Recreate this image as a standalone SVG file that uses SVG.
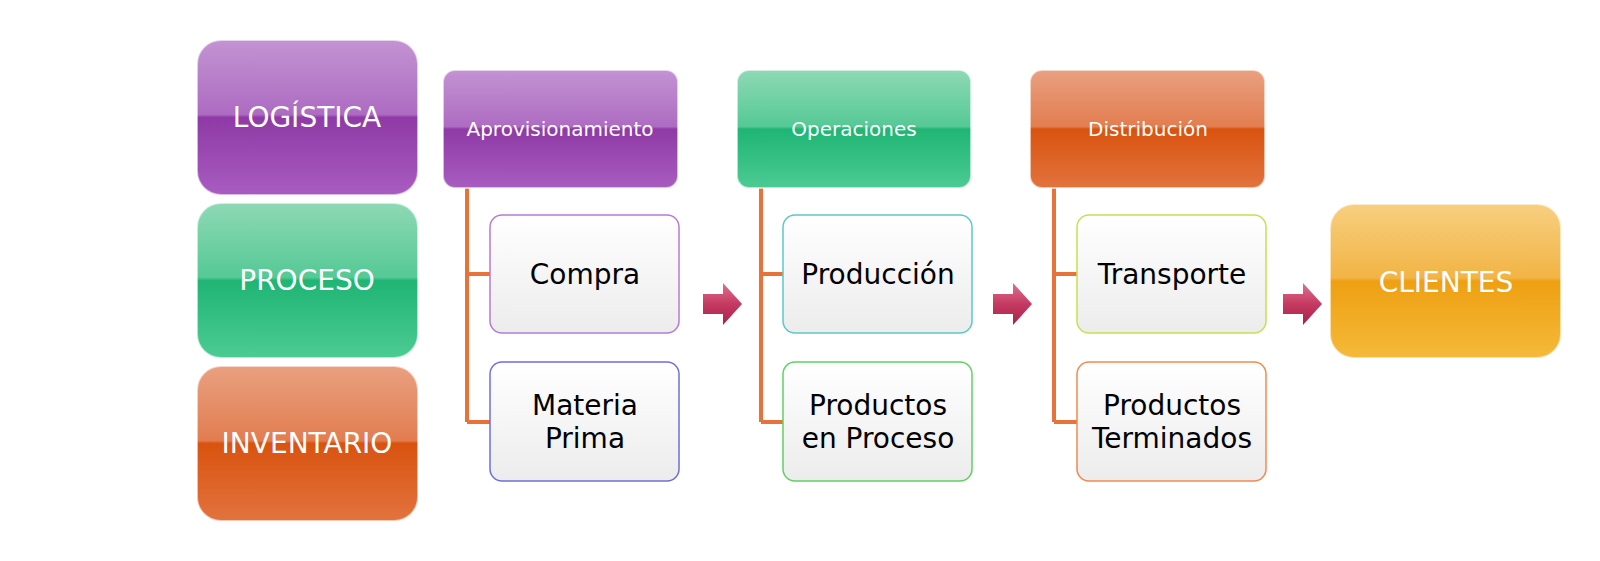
<svg xmlns="http://www.w3.org/2000/svg" width="1600" height="561" viewBox="0 0 1600 561">
<defs>
<linearGradient id="gP" x1="0" y1="0" x2="0" y2="1"><stop offset="0" stop-color="#c393d2"/><stop offset="0.48" stop-color="#ad6cc2"/><stop offset="0.5" stop-color="#8f3aa6"/><stop offset="1" stop-color="#a85cc0"/></linearGradient>
<linearGradient id="gG" x1="0" y1="0" x2="0" y2="1"><stop offset="0" stop-color="#8ed9b5"/><stop offset="0.48" stop-color="#55c995"/><stop offset="0.5" stop-color="#1fb574"/><stop offset="1" stop-color="#4ccb93"/></linearGradient>
<linearGradient id="gO" x1="0" y1="0" x2="0" y2="1"><stop offset="0" stop-color="#e9a080"/><stop offset="0.48" stop-color="#e27d50"/><stop offset="0.5" stop-color="#d9530f"/><stop offset="1" stop-color="#e2733e"/></linearGradient>
<linearGradient id="gY" x1="0" y1="0" x2="0" y2="1"><stop offset="0" stop-color="#f7cf80"/><stop offset="0.48" stop-color="#f2b445"/><stop offset="0.5" stop-color="#eea012"/><stop offset="1" stop-color="#f5b93a"/></linearGradient>
<linearGradient id="gW" x1="0" y1="0" x2="0" y2="1"><stop offset="0" stop-color="#ffffff"/><stop offset="1" stop-color="#ececec"/></linearGradient>
<linearGradient id="gA" x1="0" y1="0" x2="0" y2="1"><stop offset="0" stop-color="#e0708f"/><stop offset="0.5" stop-color="#c53a62"/><stop offset="1" stop-color="#a82048"/></linearGradient>
<path id="arr" d="M0,-10 H20 V-21 L39,0 L20,21 V10 H0 Z"/>
</defs>
<style>
.big{font-family:"DejaVu Sans",Verdana,sans-serif;font-size:28px;fill:#fff;text-anchor:middle}
.hd{font-family:"DejaVu Sans",Verdana,sans-serif;font-size:20px;fill:#fff;text-anchor:middle}
.ch{font-family:"DejaVu Sans",Verdana,sans-serif;font-size:28px;fill:#000;text-anchor:middle;font-weight:500}
.card{fill:url(#gW);stroke-width:1.5}
.shell{stroke:#fff;stroke-opacity:0.6;stroke-width:2}
</style>
<rect width="1600" height="561" fill="#fff"/>
<g id="logistica"><rect class="shell" x="197" y="40" width="221" height="155" rx="24" fill="url(#gP)"/><text class="big" x="307" y="127">LOGÍSTICA</text></g>
<g id="proceso"><rect class="shell" x="197" y="203" width="221" height="155" rx="24" fill="url(#gG)"/><text class="big" x="307" y="290">PROCESO</text></g>
<g id="inventario"><rect class="shell" x="197" y="366" width="221" height="155" rx="24" fill="url(#gO)"/><text class="big" x="307" y="453">INVENTARIO</text></g>
<g id="connectors" stroke="#e8733a" stroke-width="4" fill="none">
<path d="M467,188 V422 M467,274 H490 M467,422 H490"/>
<path d="M761,188 V422 M761,274 H783 M761,422 H783"/>
<path d="M1054,188 V422 M1054,274 H1077 M1054,422 H1077"/>
<g fill="url(#gA)" stroke="none">
<use href="#arr" x="703" y="304"/><use href="#arr" x="993" y="304"/><use href="#arr" x="1283" y="304"/>
</g>
</g>
<g id="aprovisionamiento"><rect class="shell" x="443" y="70" width="235" height="118" rx="12" fill="url(#gP)"/><text class="hd" x="560" y="136">Aprovisionamiento</text></g>
<g id="operaciones"><rect class="shell" x="737" y="70" width="234" height="118" rx="12" fill="url(#gG)"/><text class="hd" x="854" y="136">Operaciones</text></g>
<g id="distribucion"><rect class="shell" x="1030" y="70" width="235" height="118" rx="12" fill="url(#gO)"/><text class="hd" x="1148" y="136">Distribución</text></g>
<g id="compra"><rect class="card" x="490" y="215" width="189" height="118" rx="12" stroke="#b77bd0"/><text class="ch" x="585" y="284">Compra</text></g>
<g id="materia"><rect class="card" x="490" y="362" width="189" height="119" rx="12" stroke="#6f6fd6"/><text class="ch" x="585" y="415">Materia</text><text class="ch" x="585" y="448">Prima</text></g>
<g id="produccion"><rect class="card" x="783" y="215" width="189" height="118" rx="12" stroke="#5cc8c8"/><text class="ch" x="878" y="284">Producción</text></g>
<g id="enproceso"><rect class="card" x="783" y="362" width="189" height="119" rx="12" stroke="#62d062"/><text class="ch" x="878" y="415">Productos</text><text class="ch" x="878" y="448">en Proceso</text></g>
<g id="transporte"><rect class="card" x="1077" y="215" width="189" height="118" rx="12" stroke="#c8e050"/><text class="ch" x="1172" y="284">Transporte</text></g>
<g id="terminados"><rect class="card" x="1077" y="362" width="189" height="119" rx="12" stroke="#f08a50"/><text class="ch" x="1172" y="415">Productos</text><text class="ch" x="1172" y="448">Terminados</text></g>
<g id="clientes"><rect class="shell" x="1330" y="204" width="231" height="154" rx="24" fill="url(#gY)"/><text class="big" x="1446" y="292">CLIENTES</text></g>
</svg>
